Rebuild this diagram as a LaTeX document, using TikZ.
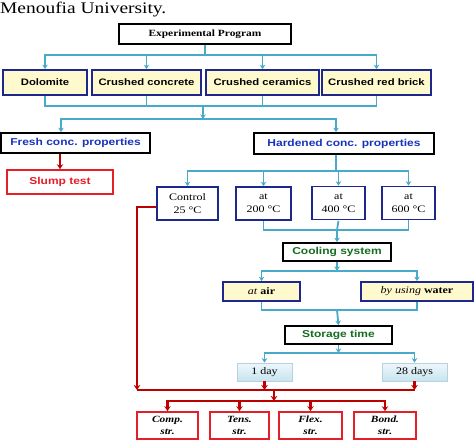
\documentclass[tikz,border=0pt]{standalone}
\usepackage{fontspec}
\setmainfont[FakeStretch=1.2]{Liberation Serif}
\setsansfont[FakeStretch=1.2]{Liberation Sans}
\usetikzlibrary{arrows.meta}
\definecolor{lb}{RGB}{70,170,200}
\definecolor{navy}{RGB}{30,40,140}
\definecolor{ylw}{RGB}{255,250,205}
\definecolor{rbox}{RGB}{230,30,40}
\definecolor{rline}{RGB}{190,0,0}
\definecolor{btxt}{RGB}{25,50,190}
\definecolor{gtxt}{RGB}{20,110,30}
\definecolor{dayb}{RGB}{180,210,225}
\definecolor{daytop}{RGB}{238,247,251}
\definecolor{daybot}{RGB}{200,228,238}
\tikzset{
  box/.style={draw, rectangle, inner sep=0pt, line width=1.7pt, align=center},
  blk/.style={box, draw=black, fill=white, font=\sffamily\bfseries\fontsize{10}{12}\selectfont},
  ybox/.style={box, draw=navy, fill=ylw},
  nbox/.style={box, draw=navy, fill=white, font=\fontsize{10}{13}\selectfont},
  rbx/.style={box, draw=rbox, fill=white, line width=1.7pt, font=\bfseries\itshape\fontsize{9.5}{11.5}\selectfont},
  daybox/.style={box, draw=dayb, line width=0.8pt, top color=daytop, bottom color=daybot, font=\fontsize{10}{12}\selectfont},
  bl/.style={draw=lb, line width=1.8pt},
  bla/.style={bl, -{Stealth[length=4.5pt,width=5.5pt]}},
  rd/.style={draw=rline, line width=2.5pt},
  rda/.style={rd, -{Stealth[length=5pt,width=6.5pt]}},
}
\begin{document}
\begin{tikzpicture}[x=1pt,y=-1pt]
\useasboundingbox (0,0) rectangle (474,444);
\node[anchor=base west, inner sep=0pt, font=\fontsize{16.2}{18}\selectfont] (title) at (0,14) {Menoufia University.};

\node[box, draw=black, fill=white, minimum width=172, minimum height=20, font=\bfseries\fontsize{9.5}{11}\selectfont] (prog) at (205,34) {Experimental Program};

\begin{scope}[every node/.append style={ybox, minimum height=25, font=\sffamily\bfseries\fontsize{9.4}{11}\selectfont}]
\node[minimum width=84] (dolo) at (45,82.5) {Dolomite};
\node[minimum width=109] (conc) at (146.5,82.5) {Crushed concrete};
\node[minimum width=113] (cera) at (262.5,82.5) {Crushed ceramics};
\node[minimum width=109] (brick) at (376.5,82.5) {Crushed red brick};
\end{scope}

\node[blk, minimum width=149, minimum height=20, text=btxt] (fresh) at (75.5,143) {Fresh conc. properties};
\node[box, draw=rbox, fill=white, minimum width=106, minimum height=24, text=rbox, font=\sffamily\bfseries\fontsize{10}{12}\selectfont] (slump) at (60,182) {Slump test};
\node[blk, minimum width=180, minimum height=21, text=btxt] (hard) at (344,143.5) {Hardened conc. properties};

\node[nbox, minimum width=61, minimum height=33] (ctrl) at (187.5,203.5) {Control\\25 °C};
\node[nbox, minimum width=55, minimum height=33] (t200) at (263.5,203.5) {at\\200 °C};
\node[nbox, minimum width=53, minimum height=33] (t400) at (338.5,203) {at\\400 °C};
\node[nbox, minimum width=53, minimum height=33] (t600) at (408.5,203) {at\\600 °C};

\node[blk, minimum width=108, minimum height=18, text=gtxt] (cool) at (337,252) {Cooling system};

\node[ybox, minimum width=77, minimum height=19, font=\fontsize{10}{12}\selectfont] (air) at (261.5,291.5) {\textit{at} \textbf{air}};
\node[ybox, minimum width=112, minimum height=19, font=\fontsize{10}{12}\selectfont] (water) at (417,291.5) {\textit{by using} \textbf{water}};

\node[blk, minimum width=107, minimum height=18, text=gtxt] (stor) at (338.5,335) {Storage time};

\node[daybox, minimum width=55, minimum height=18] (d1) at (264.5,372) {1 day};
\node[daybox, minimum width=65, minimum height=18] (d28) at (414.5,372) {28 days};

\node[rbx, minimum width=61, minimum height=27] (comp) at (167.5,425.5) {Comp.\\str.};
\node[rbx, minimum width=59, minimum height=27] (tens) at (239.5,425.5) {Tens.\\str.};
\node[rbx, minimum width=63, minimum height=27] (flex) at (310.5,425.5) {Flex.\\str.};
\node[rbx, minimum width=62, minimum height=27] (bond) at (385,425.5) {Bond.\\str.};

% blue connectors
\coordinate (b1) at (205,55);
\draw[bl] (prog.south) -- (b1);
\draw[bla] (b1) -| (dolo.north);
\draw[bla] (b1) -| (conc.north);
\draw[bla] (b1) -| (cera.north);
\draw[bla] (b1) -| (brick.north);

\coordinate (b2) at (203,106);
\draw[bl] (dolo.south) |- (b2);
\draw[bl] (conc.south) |- (b2);
\draw[bl] (cera.south) |- (b2);
\draw[bl] (brick.south) |- (b2);
\coordinate (b3) at (203,119);
\draw[bla] (b2) -- (b3);
\draw[bla] (b3) -| ([xshift=-14.5pt]fresh.north);
\draw[bla] (b3) -| ([xshift=-8pt]hard.north);

\coordinate (b4) at (336,171);
\draw[bl] ([xshift=-8pt]hard.south) -- (b4);
\draw[bla] (b4) -| (ctrl.north);
\draw[bla] (b4) -| (t200.north);
\draw[bla] (b4) -| (t400.north);
\draw[bla] (b4) -| (t600.north);

\coordinate (b5) at (337,230);
\draw[bl] (t200.south) |- (b5);
\draw[bl] (t600.south) |- (b5);
\draw[bl] (t400.south |- t200.south) -- (b5);
\draw[bla] (b5) -- (cool.north);

\coordinate (b6) at (337,271);
\draw[bla] (cool.south) -- (b6);
\draw[bla] (b6) -| (air.north);
\draw[bla] (b6) -| (water.north);

\coordinate (b7) at (337,310);
\draw[bl] (air.south) |- (b7);
\draw[bl] (water.south) |- (b7);
\draw[bla] (b7) -- (stor.north);

\coordinate (b8) at (338.5,353);
\draw[bla] (stor.south) -- (b8);
\draw[bla] (b8) -| (d1.north);
\draw[bla] (b8) -| (d28.north);

% red connectors
\draw[rda] (fresh.south -| slump.north) -- (slump.north);
\coordinate (r1) at (137,390);
\coordinate (r2) at (d28.south |- r1);
\draw[rd] (r1) -- (r2);
\draw[rda] ([yshift=-3.5pt]ctrl.west) -| (r1);
\draw[rda] (d1.south) -- (d1.south |- r1);
\draw[rda] (d28.south) -- (r2);
\coordinate (r3) at (274,390);
\coordinate (r4) at (274,401);
\draw[rda] (r3) -- (r4);
\draw[rda] (r4) -| (comp.north);
\draw[rda] (r4) -| (tens.north);
\draw[rda] (r4) -| (flex.north);
\draw[rda] (r4) -| (bond.north);
\end{tikzpicture}
\end{document}
